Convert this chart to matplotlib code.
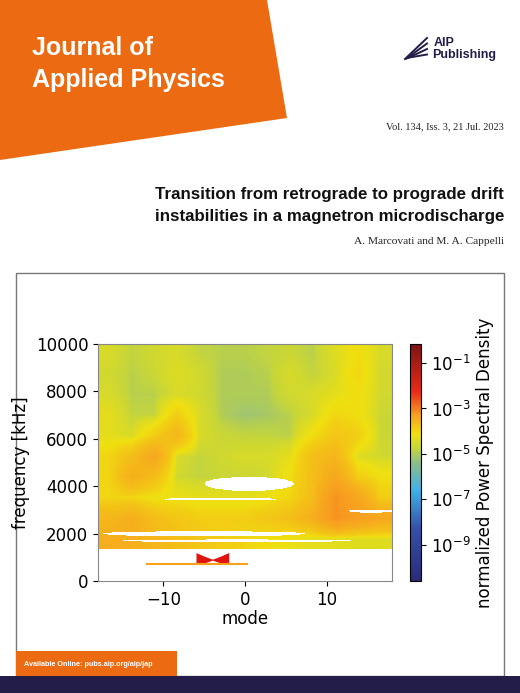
import numpy as np
import matplotlib
matplotlib.use("Agg")
import matplotlib.pyplot as plt
from matplotlib.colors import LogNorm, ListedColormap, LinearSegmentedColormap
from matplotlib.patches import Polygon, Rectangle

W, H = 520, 693
# --- data (log10 of normalized PSD) ---
modes = [-18, -15, -12, -9, -6, -3, 0, 3, 6, 9, 12, 15, 18]
freqs = [10000, 9000, 8000, 7000, 6000, 5000, 4000, 3000, 2000, 1350]
log_psd = [
    [-4.5, -4.8, -4.6, -4.5, -4.8, -4.9, -4.9, -4.8, -4.7, -4.9, -4.4, -4.1, -4.5],
    [-4.6, -4.9, -4.7, -4.4, -4.6, -5.0, -5.0, -4.9, -4.5, -4.8, -4.5, -4.0, -4.6],
    [-4.5, -4.9, -4.9, -4.5, -4.6, -5.0, -5.0, -5.0, -4.6, -4.5, -4.3, -4.1, -4.6],
    [-4.3, -4.8, -4.8, -3.9, -4.5, -5.0, -5.2, -5.1, -4.9, -4.5, -4.0, -4.1, -4.7],
    [-4.3, -4.5, -3.9, -3.6, -4.5, -4.7, -4.8, -4.8, -4.9, -4.1, -3.8, -3.9, -4.7],
    [-4.0, -3.7, -3.4, -4.5, -4.8, -4.6, -4.5, -4.5, -4.3, -3.7, -3.6, -4.4, -4.6],
    [-4.0, -3.5, -3.7, -4.6, -4.8, -4.7, -4.7, -4.6, -4.1, -3.7, -3.4, -3.9, -4.1],
    [-4.0, -4.0, -4.2, -4.2, -4.3, -4.3, -4.3, -4.2, -4.0, -3.7, -3.2, -3.4, -3.9],
    [-3.6, -3.5, -3.7, -3.8, -3.9, -3.9, -3.9, -3.8, -3.7, -3.5, -3.2, -3.3, -3.4],
    [-3.5, -3.5, -3.6, -3.7, -3.8, -3.9, -4.0, -4.1, -4.2, -4.3, -4.3, -4.4, -4.4],
]
# empty (white) regions: centre mode, centre freq, half width (mode), half height (kHz)
hole_mode = [0.5, -3.0, -5.0, -1.0, 15.5]
hole_freq = [4100, 3450, 1990, 1700, 2950]
hole_dm = [5.5, 7.0, 12.5, 14.0, 2.8]
hole_df = [300, 50, 110, 55, 70]
# low-frequency hourglass feature
hg_modes = [-6.0, -5.0, -4.0, -3.0, -2.0]
hg_low = [700, 760, 880, 760, 700]
hg_high = [1200, 1050, 920, 1050, 1200]
line_modes = [-12.0, 0.3]
line_freq = 700

psd_cmap = LinearSegmentedColormap.from_list("psd", [
    (0.0, "#2b2b78"), (0.22, "#3550a8"), (0.38, "#3fb0e6"), (0.5, "#8ebd8a"),
    (0.56, "#c6d63a"), (0.62, "#f0e010"), (0.7, "#f8a020"), (0.8, "#e82a18"), (1.0, "#7e1414")])

fig = plt.figure(figsize=(W / 100, H / 100), dpi=100)
fig.patch.set_facecolor("white")

def fx(px): return px / W
def fy(py): return 1 - py / H

# header orange shape
fig.patches.append(Polygon([[fx(0), fy(0)], [fx(267), fy(0)], [fx(287), fy(118)], [fx(0), fy(160)]],
                           closed=True, transform=fig.transFigure, facecolor="#ec6b12", edgecolor="none"))
fig.text(fx(32), fy(48), "Journal of", color="white", fontsize=18, fontweight="bold",
         family="Liberation Sans", va="center")
fig.text(fx(32), fy(80), "Applied Physics", color="white", fontsize=18, fontweight="bold",
         family="Liberation Sans", va="center")
# AIP logo
for i in range(4):
    fig.lines.append(plt.Line2D([fx(405 + i * 1.5), fx(427)], [fy(59 - i * 0.5), fy(38 + i * 5.5)],
                                transform=fig.transFigure, color="#231d4a", lw=1.4))
fig.text(fx(434), fy(43), "AIP", color="#231d4a", fontsize=9, fontweight="bold",
         family="Liberation Sans", va="center")
fig.text(fx(432), fy(55), "Publishing", color="#231d4a", fontsize=9, fontweight="bold",
         family="Liberation Sans", va="center")
fig.text(fx(504), fy(127), "Vol. 134, Iss. 3, 21 Jul. 2023", fontsize=7.5, family="Liberation Serif",
         ha="right", va="center", color="#222222")
fig.text(fx(504), fy(194), "Transition from retrograde to prograde drift", fontsize=12.2,
         fontweight="bold", family="Liberation Sans", ha="right", va="center", color="#111111")
fig.text(fx(504), fy(217), "instabilities in a magnetron microdischarge", fontsize=12.2,
         fontweight="bold", family="Liberation Sans", ha="right", va="center", color="#111111")
fig.text(fx(504), fy(242), "A. Marcovati and M. A. Cappelli", fontsize=8.2, family="Liberation Serif",
         ha="right", va="center", color="#222222")

# frame (behind axes)
frame = Rectangle((fx(16), fy(676)), fx(488), 403 / H, transform=fig.transFigure,
                  facecolor="none", edgecolor="#777777", lw=1, zorder=-1)
fig.patches.append(frame)
# bottom bars
fig.patches.append(Rectangle((0, 0), 1, 17 / H, transform=fig.transFigure, facecolor="#231d4a",
                             edgecolor="none", zorder=5))
fig.patches.append(Rectangle((fx(16), fy(676)), fx(161), 25 / H, transform=fig.transFigure,
                             facecolor="#ec6b12", edgecolor="none", zorder=5))
fig.text(fx(24), fy(664), "Available Online: pubs.aip.org/aip/jap", color="white", fontsize=5.2,
         fontweight="bold", family="Liberation Sans", va="center", zorder=6)

# main axes
ax = fig.add_axes([fx(98), fy(581), fx(294), (581 - 344) / H], zorder=3)
norm = LogNorm(vmin=10 ** -10.6, vmax=10 ** -0.16)
data = 10.0 ** np.array(log_psd)
im = ax.imshow(data, extent=[modes[0], modes[-1], freqs[-1], freqs[0]], aspect="auto",
               cmap=psd_cmap, norm=norm, interpolation="bilinear", origin="upper")
# white holes
mm, ff = np.meshgrid(np.linspace(-18, 18, 400), np.linspace(0, 10000, 600))
mask = np.zeros_like(mm, dtype=bool)
for m0, f0, dm, df in zip(hole_mode, hole_freq, hole_dm, hole_df):
    mask |= ((mm - m0) / dm) ** 2 + ((ff - f0) / df) ** 2 < 1
ax.imshow(np.where(mask, 1.0, np.nan), extent=[-18, 18, 0, 10000], origin="lower", aspect="auto",
          cmap=ListedColormap(["white"]), interpolation="nearest")
ax.fill_between(hg_modes, hg_low, hg_high, color="#e0150f", lw=0)
ax.plot(line_modes, [line_freq, line_freq], color="#f7a21b", lw=1.5)
ax.set_xlim(-18, 18)
ax.set_ylim(0, 10000)
ax.set_xticks([-10, 0, 10])
ax.set_yticks([0, 2000, 4000, 6000, 8000, 10000])
ax.tick_params(labelsize=12)
ax.set_xlabel("mode", fontsize=12, labelpad=1)
ax.set_ylabel("frequency [kHz]", fontsize=12)
for s in ax.spines.values():
    s.set_color("#888888")

cax = fig.add_axes([fx(410), fy(581), fx(11), (581 - 344) / H], zorder=3)
cb = fig.colorbar(im, cax=cax)
cb.set_ticks([1e-1, 1e-3, 1e-5, 1e-7, 1e-9])
cb.ax.tick_params(labelsize=12)
cb.ax.minorticks_off()
cb.set_label("normalized Power Spectral Density", fontsize=12)

fig.savefig("out.png", dpi=100)
